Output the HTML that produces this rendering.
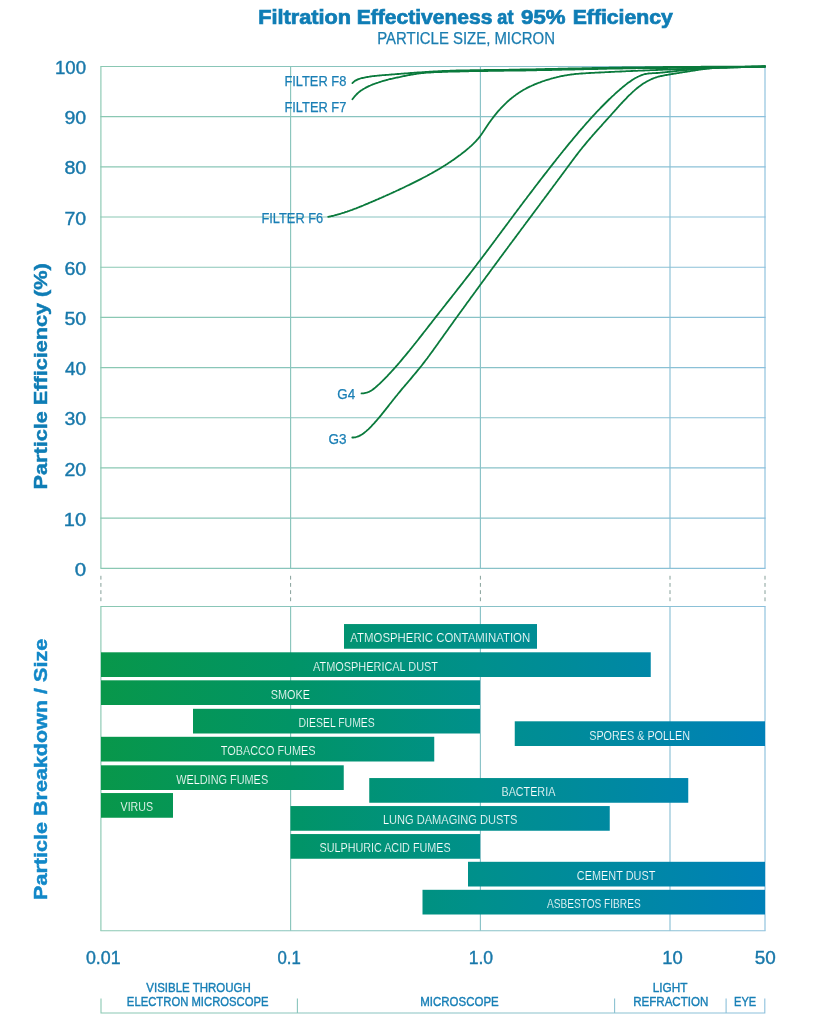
<!DOCTYPE html>
<html lang="en"><head><meta charset="utf-8"><title>Filtration Effectiveness at 95% Efficiency</title>
<style>html,body{margin:0;padding:0;background:#fff}body{width:820px;height:1024px;overflow:hidden}svg{display:block}text{font-family:"Liberation Sans",sans-serif}</style>
</head><body>
<svg width="820" height="1024" viewBox="0 0 820 1024">
<defs>
<linearGradient id="gl" gradientUnits="userSpaceOnUse" x1="101" y1="0" x2="765" y2="0"><stop offset="0" stop-color="#8ac8b2"/><stop offset="0.5" stop-color="#88c2c3"/><stop offset="1" stop-color="#8cc0dc"/></linearGradient>
<linearGradient id="gb" gradientUnits="userSpaceOnUse" x1="101" y1="0" x2="765" y2="0"><stop offset="0" stop-color="#08974a"/><stop offset="0.286" stop-color="#019466"/><stop offset="0.571" stop-color="#00908c"/><stop offset="0.857" stop-color="#0086aa"/><stop offset="1" stop-color="#0080b8"/></linearGradient>
</defs>
<rect width="820" height="1024" fill="#fff"/>
<text y="24.40" font-size="19.4" font-weight="bold" stroke="#0f7db5" stroke-width="0.7" fill="#0f7db5"><tspan id="t1" x="258.20" textLength="92.74" lengthAdjust="spacingAndGlyphs">Filtration</tspan> <tspan id="t2" x="356.74" textLength="135.62" lengthAdjust="spacingAndGlyphs">Effectiveness</tspan> <tspan id="t3" x="497.37" textLength="16.04" lengthAdjust="spacingAndGlyphs">at</tspan> <tspan id="t4" x="521.13" textLength="44.38" lengthAdjust="spacingAndGlyphs">95%</tspan> <tspan id="t5" x="572.71" textLength="100.08" lengthAdjust="spacingAndGlyphs">Efficiency</tspan></text>
<text id="t6" x="377.25" y="44.40" font-size="16.0" fill="#1a7db0" textLength="177.67" lengthAdjust="spacingAndGlyphs" stroke="#1a7db0" stroke-width="0.25">PARTICLE SIZE, MICRON</text>
<g stroke="url(#gl)" stroke-width="1.15" fill="none">
<line x1="100.40" y1="66.50" x2="765.60" y2="66.50"/>
<line x1="100.40" y1="116.68" x2="765.60" y2="116.68"/>
<line x1="100.40" y1="166.86" x2="765.60" y2="166.86"/>
<line x1="100.40" y1="217.04" x2="765.60" y2="217.04"/>
<line x1="100.40" y1="267.22" x2="765.60" y2="267.22"/>
<line x1="100.40" y1="317.40" x2="765.60" y2="317.40"/>
<line x1="100.40" y1="367.58" x2="765.60" y2="367.58"/>
<line x1="100.40" y1="417.76" x2="765.60" y2="417.76"/>
<line x1="100.40" y1="467.94" x2="765.60" y2="467.94"/>
<line x1="100.40" y1="518.12" x2="765.60" y2="518.12"/>
<line x1="100.40" y1="568.30" x2="765.60" y2="568.30"/>
<line x1="100.90" y1="66.50" x2="100.90" y2="568.30"/>
<line x1="290.60" y1="66.50" x2="290.60" y2="568.30"/>
<line x1="480.40" y1="66.50" x2="480.40" y2="568.30"/>
<line x1="670.00" y1="66.50" x2="670.00" y2="568.30"/>
<line x1="765.00" y1="66.50" x2="765.00" y2="568.30"/>
<line x1="100.40" y1="606.50" x2="765.60" y2="606.50"/>
<line x1="100.40" y1="930.70" x2="765.60" y2="930.70"/>
<line x1="100.90" y1="606.50" x2="100.90" y2="930.70"/>
<line x1="290.60" y1="606.50" x2="290.60" y2="930.70"/>
<line x1="480.40" y1="606.50" x2="480.40" y2="930.70"/>
<line x1="670.00" y1="606.50" x2="670.00" y2="930.70"/>
<line x1="765.00" y1="606.50" x2="765.00" y2="930.70"/>
</g>
<g stroke="#86a09a" stroke-width="1" stroke-dasharray="3.8 3.4" fill="none">
<line x1="100.90" y1="575.8" x2="100.90" y2="601.5"/>
<line x1="290.60" y1="575.8" x2="290.60" y2="601.5"/>
<line x1="480.40" y1="575.8" x2="480.40" y2="601.5"/>
<line x1="670.00" y1="575.8" x2="670.00" y2="601.5"/>
<line x1="765.00" y1="575.8" x2="765.00" y2="601.5"/>
</g>
<text id="t7" x="54.96" y="74.10" font-size="18.3" fill="#1878aa" textLength="31.09" lengthAdjust="spacingAndGlyphs" stroke="#1878aa" stroke-width="0.4">100</text>
<text id="t8" x="64.50" y="124.28" font-size="18.3" fill="#1878aa" textLength="21.69" lengthAdjust="spacingAndGlyphs" stroke="#1878aa" stroke-width="0.4">90</text>
<text id="t9" x="64.40" y="174.46" font-size="18.3" fill="#1878aa" textLength="21.84" lengthAdjust="spacingAndGlyphs" stroke="#1878aa" stroke-width="0.4">80</text>
<text id="t10" x="64.50" y="224.64" font-size="18.3" fill="#1878aa" textLength="21.70" lengthAdjust="spacingAndGlyphs" stroke="#1878aa" stroke-width="0.4">70</text>
<text id="t11" x="64.47" y="274.82" font-size="18.3" fill="#1878aa" textLength="21.72" lengthAdjust="spacingAndGlyphs" stroke="#1878aa" stroke-width="0.4">60</text>
<text id="t12" x="64.51" y="325.00" font-size="18.3" fill="#1878aa" textLength="21.69" lengthAdjust="spacingAndGlyphs" stroke="#1878aa" stroke-width="0.4">50</text>
<text id="t13" x="65.08" y="375.18" font-size="18.3" fill="#1878aa" textLength="21.06" lengthAdjust="spacingAndGlyphs" stroke="#1878aa" stroke-width="0.4">40</text>
<text id="t14" x="64.53" y="425.36" font-size="18.3" fill="#1878aa" textLength="21.68" lengthAdjust="spacingAndGlyphs" stroke="#1878aa" stroke-width="0.4">30</text>
<text id="t15" x="64.53" y="475.54" font-size="18.3" fill="#1878aa" textLength="21.68" lengthAdjust="spacingAndGlyphs" stroke="#1878aa" stroke-width="0.4">20</text>
<text id="t16" x="63.80" y="525.72" font-size="18.3" fill="#1878aa" textLength="22.26" lengthAdjust="spacingAndGlyphs" stroke="#1878aa" stroke-width="0.4">10</text>
<text id="t17" x="74.75" y="575.90" font-size="18.3" fill="#1878aa" textLength="11.37" lengthAdjust="spacingAndGlyphs" stroke="#1878aa" stroke-width="0.4">0</text>
<text id="t18" transform="translate(46.60 489.42) rotate(-90)" font-size="18.7" font-weight="bold" stroke="#0f7db5" stroke-width="0.45" fill="#0f7db5" textLength="226.21" lengthAdjust="spacingAndGlyphs">Particle Efficiency (%)</text>
<text id="t19" transform="translate(47.30 899.92) rotate(-90)" font-size="18.7" font-weight="bold" stroke="#1288c8" stroke-width="0.45" fill="#1288c8" textLength="261.13" lengthAdjust="spacingAndGlyphs">Particle Breakdown / Size</text>
<g stroke="#0a7a3c" stroke-width="1.8" fill="none" stroke-linecap="round" stroke-linejoin="round">
<path d="M352.4 83.1 L353.4 82.2 L354.4 81.3 L355.4 80.6 L356.4 80.1 L357.4 79.6 L358.4 79.1 L359.4 78.8 L360.4 78.5 L361.4 78.2 L362.4 78.0 L363.4 77.8 L364.4 77.6 L365.4 77.4 L366.4 77.2 L367.4 77.0 L368.4 76.8 L369.4 76.7 L370.4 76.5 L371.4 76.4 L372.4 76.2 L373.4 76.1 L374.4 76.0 L375.4 75.9 L376.4 75.8 L377.4 75.7 L378.4 75.6 L379.4 75.5 L380.4 75.4 L381.4 75.3 L382.4 75.2 L383.4 75.1 L384.4 75.1 L385.4 75.0 L386.4 74.9 L387.4 74.8 L388.4 74.8 L389.4 74.7 L390.4 74.6 L391.4 74.5 L392.4 74.4 L393.4 74.4 L394.4 74.3 L395.4 74.2 L396.4 74.1 L397.4 74.0 L398.4 74.0 L399.4 73.9 L400.4 73.8 L401.4 73.7 L402.4 73.7 L403.4 73.6 L404.4 73.5 L405.4 73.4 L406.4 73.3 L407.4 73.3 L408.4 73.2 L409.4 73.1 L410.4 73.0 L411.4 73.0 L412.4 72.9 L413.4 72.8 L414.4 72.7 L415.4 72.7 L416.4 72.6 L417.4 72.5 L418.4 72.5 L419.4 72.4 L420.4 72.3 L421.4 72.3 L422.4 72.2 L423.4 72.1 L424.4 72.1 L425.4 72.0 L426.4 71.9 L427.4 71.9 L428.4 71.8 L429.4 71.7 L430.4 71.7 L431.4 71.6 L432.4 71.6 L433.4 71.5 L434.4 71.4 L435.4 71.4 L436.4 71.3 L437.4 71.3 L438.4 71.2 L439.4 71.2 L440.4 71.1 L441.4 71.1 L442.4 71.0 L443.4 71.0 L444.4 71.0 L445.4 70.9 L446.4 70.9 L447.4 70.8 L448.4 70.8 L449.4 70.8 L450.4 70.7 L451.4 70.7 L452.4 70.7 L453.4 70.6 L454.4 70.6 L455.4 70.6 L456.4 70.5 L457.4 70.5 L458.4 70.5 L459.4 70.5 L460.4 70.4 L461.4 70.4 L462.4 70.4 L463.4 70.4 L464.4 70.3 L465.4 70.3 L466.4 70.3 L467.4 70.3 L468.4 70.3 L469.4 70.3 L470.4 70.2 L471.4 70.2 L472.4 70.2 L473.4 70.2 L474.4 70.2 L475.4 70.2 L476.4 70.1 L477.4 70.1 L478.4 70.1 L479.4 70.1 L480.4 70.1 L481.4 70.1 L482.4 70.1 L483.4 70.1 L484.4 70.0 L485.4 70.0 L486.4 70.0 L487.4 70.0 L488.4 70.0 L489.4 70.0 L490.4 70.0 L491.4 70.0 L492.4 70.0 L493.4 69.9 L494.4 69.9 L495.4 69.9 L496.4 69.9 L497.4 69.9 L498.4 69.9 L499.4 69.9 L500.4 69.9 L501.4 69.9 L502.4 69.8 L503.4 69.8 L504.4 69.8 L505.4 69.8 L506.4 69.8 L507.4 69.8 L508.4 69.8 L509.4 69.7 L510.4 69.7 L511.4 69.7 L512.4 69.7 L513.4 69.7 L514.4 69.7 L515.4 69.6 L516.4 69.6 L517.4 69.6 L518.4 69.6 L519.4 69.6 L520.4 69.5 L521.4 69.5 L522.4 69.5 L523.4 69.5 L524.4 69.5 L525.4 69.5 L526.4 69.4 L527.4 69.4 L528.4 69.4 L529.4 69.4 L530.4 69.4 L531.4 69.3 L532.4 69.3 L533.4 69.3 L534.4 69.3 L535.4 69.3 L536.4 69.2 L537.4 69.2 L538.4 69.2 L539.4 69.2 L540.4 69.1 L541.4 69.1 L542.4 69.1 L543.4 69.1 L544.4 69.1 L545.4 69.0 L546.4 69.0 L547.4 69.0 L548.4 69.0 L549.4 68.9 L550.4 68.9 L551.4 68.9 L552.4 68.9 L553.4 68.9 L554.4 68.8 L555.4 68.8 L556.4 68.8 L557.4 68.8 L558.4 68.7 L559.4 68.7 L560.4 68.7 L561.4 68.7 L562.4 68.7 L563.4 68.6 L564.4 68.6 L565.4 68.6 L566.4 68.6 L567.4 68.6 L568.4 68.5 L569.4 68.5 L570.4 68.5 L571.4 68.5 L572.4 68.4 L573.4 68.4 L574.4 68.4 L575.4 68.4 L576.4 68.4 L577.4 68.3 L578.4 68.3 L579.4 68.3 L580.4 68.3 L581.4 68.3 L582.4 68.2 L583.4 68.2 L584.4 68.2 L585.4 68.2 L586.4 68.2 L587.4 68.1 L588.4 68.1 L589.4 68.1 L590.4 68.1 L591.4 68.1 L592.4 68.0 L593.4 68.0 L594.4 68.0 L595.4 68.0 L596.4 68.0 L597.4 68.0 L598.4 67.9 L599.4 67.9 L600.4 67.9 L601.4 67.9 L602.4 67.9 L603.4 67.8 L604.4 67.8 L605.4 67.8 L606.4 67.8 L607.4 67.8 L608.4 67.8 L609.4 67.7 L610.4 67.7 L611.4 67.7 L612.4 67.7 L613.4 67.7 L614.4 67.7 L615.4 67.7 L616.4 67.6 L617.4 67.6 L618.4 67.6 L619.4 67.6 L620.4 67.6 L621.4 67.6 L622.4 67.5 L623.4 67.5 L624.4 67.5 L625.4 67.5 L626.4 67.5 L627.4 67.5 L628.4 67.5 L629.4 67.4 L630.4 67.4 L631.4 67.4 L632.4 67.4 L633.4 67.4 L634.4 67.4 L635.4 67.4 L636.4 67.4 L637.4 67.3 L638.4 67.3 L639.4 67.3 L640.4 67.3 L641.4 67.3 L642.4 67.3 L643.4 67.3 L644.4 67.3 L645.4 67.2 L646.4 67.2 L647.4 67.2 L648.4 67.2 L649.4 67.2 L650.4 67.2 L651.4 67.2 L652.4 67.2 L653.4 67.2 L654.4 67.1 L655.4 67.1 L656.4 67.1 L657.4 67.1 L658.4 67.1 L659.4 67.1 L660.4 67.1 L661.4 67.1 L662.4 67.1 L663.4 67.0 L664.4 67.0 L665.4 67.0 L666.4 67.0 L667.4 67.0 L668.4 67.0 L669.4 67.0 L670.4 67.0 L671.4 67.0 L672.4 67.0 L673.4 67.0 L674.4 66.9 L675.4 66.9 L676.4 66.9 L677.4 66.9 L678.4 66.9 L679.4 66.9 L680.4 66.9 L681.4 66.9 L682.4 66.9 L683.4 66.9 L684.4 66.9 L685.4 66.9 L686.4 66.8 L687.4 66.8 L688.4 66.8 L689.4 66.8 L690.4 66.8 L691.4 66.8 L692.4 66.8 L693.4 66.8 L694.4 66.8 L695.4 66.8 L696.4 66.8 L697.4 66.8 L698.4 66.8 L699.4 66.8 L700.4 66.8 L701.4 66.7 L702.4 66.7 L703.4 66.7 L704.4 66.7 L705.4 66.7 L706.4 66.7 L707.4 66.7 L708.4 66.7 L709.4 66.7 L710.4 66.7 L711.4 66.7 L712.4 66.7 L713.4 66.7 L714.4 66.7 L715.4 66.7 L716.4 66.7 L717.4 66.7 L718.4 66.7 L719.4 66.6 L720.4 66.6 L721.4 66.6 L722.4 66.6 L723.4 66.6 L724.4 66.6 L725.4 66.6 L726.4 66.6 L727.4 66.6 L728.4 66.6 L729.4 66.6 L730.4 66.6 L731.4 66.6 L732.4 66.6 L733.4 66.6 L734.4 66.6 L735.4 66.6 L736.4 66.6 L737.4 66.6 L738.4 66.6 L739.4 66.6 L740.4 66.6 L741.4 66.6 L742.4 66.6 L743.4 66.6 L744.4 66.6 L745.4 66.5 L746.4 66.5 L747.4 66.5 L748.4 66.5 L749.4 66.5 L750.4 66.5 L751.4 66.5 L752.4 66.5 L753.4 66.5 L754.4 66.5 L755.4 66.5 L756.4 66.5 L757.4 66.5 L758.4 66.5 L759.4 66.5 L760.4 66.5 L761.4 66.5 L762.4 66.5 L763.4 66.5 L764.4 66.5 L765.0 66.5"/>
<path d="M352.4 99.3 L353.4 98.0 L354.4 96.7 L355.4 95.6 L356.4 94.5 L357.4 93.5 L358.4 92.6 L359.4 91.8 L360.4 91.0 L361.4 90.3 L362.4 89.7 L363.4 89.0 L364.4 88.5 L365.4 87.9 L366.4 87.4 L367.4 86.9 L368.4 86.4 L369.4 85.9 L370.4 85.5 L371.4 85.0 L372.4 84.6 L373.4 84.2 L374.4 83.9 L375.4 83.5 L376.4 83.1 L377.4 82.8 L378.4 82.5 L379.4 82.1 L380.4 81.8 L381.4 81.5 L382.4 81.2 L383.4 80.9 L384.4 80.6 L385.4 80.3 L386.4 80.0 L387.4 79.8 L388.4 79.5 L389.4 79.2 L390.4 79.0 L391.4 78.8 L392.4 78.6 L393.4 78.3 L394.4 78.1 L395.4 77.9 L396.4 77.7 L397.4 77.5 L398.4 77.3 L399.4 77.1 L400.4 76.9 L401.4 76.6 L402.4 76.4 L403.4 76.2 L404.4 76.0 L405.4 75.8 L406.4 75.6 L407.4 75.4 L408.4 75.2 L409.4 75.0 L410.4 74.8 L411.4 74.6 L412.4 74.5 L413.4 74.3 L414.4 74.1 L415.4 74.0 L416.4 73.8 L417.4 73.7 L418.4 73.6 L419.4 73.4 L420.4 73.3 L421.4 73.2 L422.4 73.1 L423.4 73.0 L424.4 72.9 L425.4 72.8 L426.4 72.7 L427.4 72.7 L428.4 72.6 L429.4 72.5 L430.4 72.5 L431.4 72.4 L432.4 72.3 L433.4 72.3 L434.4 72.2 L435.4 72.2 L436.4 72.1 L437.4 72.1 L438.4 72.1 L439.4 72.0 L440.4 72.0 L441.4 72.0 L442.4 71.9 L443.4 71.9 L444.4 71.9 L445.4 71.8 L446.4 71.8 L447.4 71.8 L448.4 71.7 L449.4 71.7 L450.4 71.7 L451.4 71.7 L452.4 71.6 L453.4 71.6 L454.4 71.6 L455.4 71.5 L456.4 71.5 L457.4 71.5 L458.4 71.5 L459.4 71.5 L460.4 71.4 L461.4 71.4 L462.4 71.4 L463.4 71.4 L464.4 71.3 L465.4 71.3 L466.4 71.3 L467.4 71.3 L468.4 71.3 L469.4 71.2 L470.4 71.2 L471.4 71.2 L472.4 71.2 L473.4 71.2 L474.4 71.2 L475.4 71.1 L476.4 71.1 L477.4 71.1 L478.4 71.1 L479.4 71.1 L480.4 71.1 L481.4 71.0 L482.4 71.0 L483.4 71.0 L484.4 71.0 L485.4 71.0 L486.4 71.0 L487.4 71.0 L488.4 70.9 L489.4 70.9 L490.4 70.9 L491.4 70.9 L492.4 70.9 L493.4 70.9 L494.4 70.9 L495.4 70.9 L496.4 70.8 L497.4 70.8 L498.4 70.8 L499.4 70.8 L500.4 70.8 L501.4 70.8 L502.4 70.8 L503.4 70.8 L504.4 70.7 L505.4 70.7 L506.4 70.7 L507.4 70.7 L508.4 70.7 L509.4 70.7 L510.4 70.7 L511.4 70.7 L512.4 70.6 L513.4 70.6 L514.4 70.6 L515.4 70.6 L516.4 70.6 L517.4 70.6 L518.4 70.6 L519.4 70.5 L520.4 70.5 L521.4 70.5 L522.4 70.5 L523.4 70.5 L524.4 70.5 L525.4 70.5 L526.4 70.4 L527.4 70.4 L528.4 70.4 L529.4 70.4 L530.4 70.4 L531.4 70.4 L532.4 70.3 L533.4 70.3 L534.4 70.3 L535.4 70.3 L536.4 70.3 L537.4 70.2 L538.4 70.2 L539.4 70.2 L540.4 70.2 L541.4 70.2 L542.4 70.2 L543.4 70.1 L544.4 70.1 L545.4 70.1 L546.4 70.1 L547.4 70.1 L548.4 70.0 L549.4 70.0 L550.4 70.0 L551.4 70.0 L552.4 69.9 L553.4 69.9 L554.4 69.9 L555.4 69.9 L556.4 69.9 L557.4 69.8 L558.4 69.8 L559.4 69.8 L560.4 69.8 L561.4 69.8 L562.4 69.7 L563.4 69.7 L564.4 69.7 L565.4 69.7 L566.4 69.6 L567.4 69.6 L568.4 69.6 L569.4 69.6 L570.4 69.6 L571.4 69.5 L572.4 69.5 L573.4 69.5 L574.4 69.5 L575.4 69.4 L576.4 69.4 L577.4 69.4 L578.4 69.4 L579.4 69.4 L580.4 69.3 L581.4 69.3 L582.4 69.3 L583.4 69.3 L584.4 69.2 L585.4 69.2 L586.4 69.2 L587.4 69.2 L588.4 69.1 L589.4 69.1 L590.4 69.1 L591.4 69.1 L592.4 69.1 L593.4 69.0 L594.4 69.0 L595.4 69.0 L596.4 69.0 L597.4 69.0 L598.4 68.9 L599.4 68.9 L600.4 68.9 L601.4 68.9 L602.4 68.8 L603.4 68.8 L604.4 68.8 L605.4 68.8 L606.4 68.8 L607.4 68.7 L608.4 68.7 L609.4 68.7 L610.4 68.7 L611.4 68.7 L612.4 68.6 L613.4 68.6 L614.4 68.6 L615.4 68.6 L616.4 68.6 L617.4 68.6 L618.4 68.5 L619.4 68.5 L620.4 68.5 L621.4 68.5 L622.4 68.5 L623.4 68.4 L624.4 68.4 L625.4 68.4 L626.4 68.4 L627.4 68.4 L628.4 68.4 L629.4 68.3 L630.4 68.3 L631.4 68.3 L632.4 68.3 L633.4 68.3 L634.4 68.3 L635.4 68.3 L636.4 68.2 L637.4 68.2 L638.4 68.2 L639.4 68.2 L640.4 68.2 L641.4 68.2 L642.4 68.2 L643.4 68.2 L644.4 68.2 L645.4 68.1 L646.4 68.1 L647.4 68.1 L648.4 68.1 L649.4 68.1 L650.4 68.1 L651.4 68.1 L652.4 68.1 L653.4 68.1 L654.4 68.1 L655.4 68.0 L656.4 68.0 L657.4 68.0 L658.4 68.0 L659.4 68.0 L660.4 68.0 L661.4 68.0 L662.4 68.0 L663.4 68.0 L664.4 68.0 L665.4 68.0 L666.4 68.0 L667.4 68.0 L668.4 67.9 L669.4 67.9 L670.4 67.9 L671.4 67.9 L672.4 67.9 L673.4 67.9 L674.4 67.9 L675.4 67.9 L676.4 67.9 L677.4 67.9 L678.4 67.9 L679.4 67.9 L680.4 67.9 L681.4 67.9 L682.4 67.8 L683.4 67.8 L684.4 67.8 L685.4 67.8 L686.4 67.8 L687.4 67.8 L688.4 67.8 L689.4 67.8 L690.4 67.8 L691.4 67.8 L692.4 67.8 L693.4 67.8 L694.4 67.7 L695.4 67.7 L696.4 67.7 L697.4 67.7 L698.4 67.7 L699.4 67.7 L700.4 67.7 L701.4 67.7 L702.4 67.7 L703.4 67.6 L704.4 67.6 L705.4 67.6 L706.4 67.6 L707.4 67.6 L708.4 67.6 L709.4 67.6 L710.4 67.5 L711.4 67.5 L712.4 67.5 L713.4 67.5 L714.4 67.5 L715.4 67.5 L716.4 67.4 L717.4 67.4 L718.4 67.4 L719.4 67.4 L720.4 67.4 L721.4 67.4 L722.4 67.3 L723.4 67.3 L724.4 67.3 L725.4 67.3 L726.4 67.3 L727.4 67.2 L728.4 67.2 L729.4 67.2 L730.4 67.2 L731.4 67.2 L732.4 67.1 L733.4 67.1 L734.4 67.1 L735.4 67.1 L736.4 67.0 L737.4 67.0 L738.4 67.0 L739.4 67.0 L740.4 67.0 L741.4 66.9 L742.4 66.9 L743.4 66.9 L744.4 66.9 L745.4 66.9 L746.4 66.8 L747.4 66.8 L748.4 66.8 L749.4 66.8 L750.4 66.8 L751.4 66.7 L752.4 66.7 L753.4 66.7 L754.4 66.7 L755.4 66.7 L756.4 66.6 L757.4 66.6 L758.4 66.6 L759.4 66.6 L760.4 66.6 L761.4 66.6 L762.4 66.5 L763.4 66.5 L764.4 66.5 L765.0 66.5"/>
<path d="M328.2 216.9 L329.2 216.7 L330.2 216.5 L331.2 216.2 L332.2 216.0 L333.2 215.8 L334.2 215.5 L335.2 215.2 L336.2 215.0 L337.2 214.7 L338.2 214.4 L339.2 214.1 L340.2 213.8 L341.2 213.5 L342.2 213.2 L343.2 212.9 L344.2 212.6 L345.2 212.2 L346.2 211.9 L347.2 211.6 L348.2 211.2 L349.2 210.9 L350.2 210.5 L351.2 210.1 L352.2 209.8 L353.2 209.4 L354.2 209.0 L355.2 208.6 L356.2 208.3 L357.2 207.9 L358.2 207.5 L359.2 207.1 L360.2 206.7 L361.2 206.3 L362.2 205.9 L363.2 205.5 L364.2 205.0 L365.2 204.6 L366.2 204.2 L367.2 203.8 L368.2 203.4 L369.2 202.9 L370.2 202.5 L371.2 202.1 L372.2 201.7 L373.2 201.2 L374.2 200.8 L375.2 200.4 L376.2 199.9 L377.2 199.5 L378.2 199.1 L379.2 198.6 L380.2 198.2 L381.2 197.8 L382.2 197.3 L383.2 196.9 L384.2 196.4 L385.2 196.0 L386.2 195.5 L387.2 195.1 L388.2 194.7 L389.2 194.2 L390.2 193.7 L391.2 193.3 L392.2 192.8 L393.2 192.4 L394.2 191.9 L395.2 191.5 L396.2 191.0 L397.2 190.5 L398.2 190.1 L399.2 189.6 L400.2 189.1 L401.2 188.7 L402.2 188.2 L403.2 187.7 L404.2 187.3 L405.2 186.8 L406.2 186.3 L407.2 185.8 L408.2 185.3 L409.2 184.9 L410.2 184.4 L411.2 183.9 L412.2 183.4 L413.2 182.9 L414.2 182.4 L415.2 181.9 L416.2 181.4 L417.2 180.9 L418.2 180.4 L419.2 179.9 L420.2 179.4 L421.2 178.9 L422.2 178.3 L423.2 177.8 L424.2 177.3 L425.2 176.8 L426.2 176.2 L427.2 175.7 L428.2 175.1 L429.2 174.6 L430.2 174.0 L431.2 173.5 L432.2 172.9 L433.2 172.4 L434.2 171.8 L435.2 171.2 L436.2 170.6 L437.2 170.1 L438.2 169.5 L439.2 168.9 L440.2 168.3 L441.2 167.7 L442.2 167.0 L443.2 166.4 L444.2 165.8 L445.2 165.2 L446.2 164.5 L447.2 163.9 L448.2 163.2 L449.2 162.6 L450.2 161.9 L451.2 161.2 L452.2 160.6 L453.2 159.9 L454.2 159.2 L455.2 158.5 L456.2 157.8 L457.2 157.1 L458.2 156.3 L459.2 155.6 L460.2 154.9 L461.2 154.1 L462.2 153.3 L463.2 152.6 L464.2 151.8 L465.2 151.0 L466.2 150.1 L467.2 149.3 L468.2 148.4 L469.2 147.6 L470.2 146.7 L471.2 145.8 L472.2 144.8 L473.2 143.9 L474.2 142.9 L475.2 141.9 L476.2 140.8 L477.2 139.7 L478.2 138.6 L479.2 137.4 L480.2 136.1 L481.2 134.7 L482.2 133.3 L483.2 131.8 L484.2 130.3 L485.2 128.7 L486.2 127.2 L487.2 125.7 L488.2 124.2 L489.2 122.8 L490.2 121.4 L491.2 120.0 L492.2 118.7 L493.2 117.4 L494.2 116.1 L495.2 114.8 L496.2 113.6 L497.2 112.4 L498.2 111.2 L499.2 110.1 L500.2 109.0 L501.2 107.9 L502.2 106.8 L503.2 105.8 L504.2 104.8 L505.2 103.8 L506.2 102.9 L507.2 101.9 L508.2 101.0 L509.2 100.1 L510.2 99.3 L511.2 98.5 L512.2 97.6 L513.2 96.9 L514.2 96.1 L515.2 95.4 L516.2 94.6 L517.2 93.9 L518.2 93.2 L519.2 92.6 L520.2 91.9 L521.2 91.3 L522.2 90.7 L523.2 90.1 L524.2 89.5 L525.2 89.0 L526.2 88.4 L527.2 87.9 L528.2 87.4 L529.2 86.9 L530.2 86.4 L531.2 86.0 L532.2 85.5 L533.2 85.1 L534.2 84.6 L535.2 84.2 L536.2 83.8 L537.2 83.4 L538.2 83.0 L539.2 82.6 L540.2 82.3 L541.2 81.9 L542.2 81.5 L543.2 81.2 L544.2 80.9 L545.2 80.5 L546.2 80.2 L547.2 79.9 L548.2 79.6 L549.2 79.3 L550.2 79.0 L551.2 78.7 L552.2 78.4 L553.2 78.2 L554.2 77.9 L555.2 77.6 L556.2 77.4 L557.2 77.1 L558.2 76.9 L559.2 76.7 L560.2 76.4 L561.2 76.2 L562.2 76.0 L563.2 75.8 L564.2 75.6 L565.2 75.4 L566.2 75.3 L567.2 75.1 L568.2 74.9 L569.2 74.8 L570.2 74.6 L571.2 74.5 L572.2 74.4 L573.2 74.3 L574.2 74.1 L575.2 74.0 L576.2 73.9 L577.2 73.8 L578.2 73.8 L579.2 73.7 L580.2 73.6 L581.2 73.5 L582.2 73.5 L583.2 73.4 L584.2 73.3 L585.2 73.3 L586.2 73.2 L587.2 73.1 L588.2 73.1 L589.2 73.0 L590.2 73.0 L591.2 72.9 L592.2 72.9 L593.2 72.8 L594.2 72.8 L595.2 72.7 L596.2 72.7 L597.2 72.6 L598.2 72.6 L599.2 72.5 L600.2 72.5 L601.2 72.4 L602.2 72.4 L603.2 72.3 L604.2 72.3 L605.2 72.2 L606.2 72.2 L607.2 72.1 L608.2 72.1 L609.2 72.0 L610.2 72.0 L611.2 71.9 L612.2 71.9 L613.2 71.8 L614.2 71.8 L615.2 71.7 L616.2 71.7 L617.2 71.7 L618.2 71.6 L619.2 71.6 L620.2 71.5 L621.2 71.5 L622.2 71.4 L623.2 71.4 L624.2 71.3 L625.2 71.3 L626.2 71.2 L627.2 71.2 L628.2 71.2 L629.2 71.1 L630.2 71.1 L631.2 71.0 L632.2 71.0 L633.2 70.9 L634.2 70.9 L635.2 70.9 L636.2 70.8 L637.2 70.8 L638.2 70.7 L639.2 70.7 L640.2 70.7 L641.2 70.6 L642.2 70.6 L643.2 70.5 L644.2 70.5 L645.2 70.4 L646.2 70.4 L647.2 70.4 L648.2 70.3 L649.2 70.3 L650.2 70.2 L651.2 70.2 L652.2 70.2 L653.2 70.1 L654.2 70.1 L655.2 70.1 L656.2 70.0 L657.2 70.0 L658.2 69.9 L659.2 69.9 L660.2 69.9 L661.2 69.8 L662.2 69.8 L663.2 69.7 L664.2 69.7 L665.2 69.7 L666.2 69.6 L667.2 69.6 L668.2 69.6 L669.2 69.5 L670.2 69.5 L671.2 69.4 L672.2 69.4 L673.2 69.4 L674.2 69.3 L675.2 69.3 L676.2 69.3 L677.2 69.2 L678.2 69.2 L679.2 69.2 L680.2 69.1 L681.2 69.1 L682.2 69.0 L683.2 69.0 L684.2 69.0 L685.2 68.9 L686.2 68.9 L687.2 68.9 L688.2 68.8 L689.2 68.8 L690.2 68.8 L691.2 68.7 L692.2 68.7 L693.2 68.7 L694.2 68.6 L695.2 68.6 L696.2 68.5 L697.2 68.5 L698.2 68.5 L699.2 68.4 L700.2 68.4 L701.2 68.4 L702.2 68.3 L703.2 68.3 L704.2 68.3 L705.2 68.2 L706.2 68.2 L707.2 68.2 L708.2 68.1 L709.2 68.1 L710.2 68.1 L711.2 68.0 L712.2 68.0 L713.2 68.0 L714.2 67.9 L715.2 67.9 L716.2 67.8 L717.2 67.8 L718.2 67.8 L719.2 67.7 L720.2 67.7 L721.2 67.7 L722.2 67.6 L723.2 67.6 L724.2 67.6 L725.2 67.5 L726.2 67.5 L727.2 67.5 L728.2 67.4 L729.2 67.4 L730.2 67.4 L731.2 67.3 L732.2 67.3 L733.2 67.3 L734.2 67.2 L735.2 67.2 L736.2 67.2 L737.2 67.2 L738.2 67.1 L739.2 67.1 L740.2 67.1 L741.2 67.0 L742.2 67.0 L743.2 67.0 L744.2 67.0 L745.2 66.9 L746.2 66.9 L747.2 66.9 L748.2 66.8 L749.2 66.8 L750.2 66.8 L751.2 66.8 L752.2 66.7 L753.2 66.7 L754.2 66.7 L755.2 66.7 L756.2 66.7 L757.2 66.6 L758.2 66.6 L759.2 66.6 L760.2 66.6 L761.2 66.6 L762.2 66.5 L763.2 66.5 L764.2 66.5 L765.0 66.5"/>
<path d="M361.5 393.4 L362.5 393.4 L363.5 393.3 L364.5 393.1 L365.5 392.9 L366.5 392.7 L367.5 392.4 L368.5 392.0 L369.5 391.6 L370.5 391.0 L371.5 390.4 L372.5 389.8 L373.5 389.0 L374.5 388.2 L375.5 387.4 L376.5 386.5 L377.5 385.6 L378.5 384.7 L379.5 383.8 L380.5 382.8 L381.5 381.8 L382.5 380.9 L383.5 379.9 L384.5 378.9 L385.5 377.8 L386.5 376.8 L387.5 375.8 L388.5 374.7 L389.5 373.7 L390.5 372.6 L391.5 371.5 L392.5 370.4 L393.5 369.3 L394.5 368.2 L395.5 367.1 L396.5 365.9 L397.5 364.8 L398.5 363.6 L399.5 362.5 L400.5 361.3 L401.5 360.1 L402.5 358.9 L403.5 357.7 L404.5 356.5 L405.5 355.3 L406.5 354.1 L407.5 352.9 L408.5 351.7 L409.5 350.5 L410.5 349.2 L411.5 348.0 L412.5 346.7 L413.5 345.5 L414.5 344.2 L415.5 343.0 L416.5 341.7 L417.5 340.5 L418.5 339.2 L419.5 337.9 L420.5 336.7 L421.5 335.4 L422.5 334.1 L423.5 332.8 L424.5 331.5 L425.5 330.3 L426.5 329.0 L427.5 327.7 L428.5 326.4 L429.5 325.1 L430.5 323.8 L431.5 322.6 L432.5 321.3 L433.5 320.0 L434.5 318.7 L435.5 317.4 L436.5 316.1 L437.5 314.9 L438.5 313.6 L439.5 312.3 L440.5 311.0 L441.5 309.8 L442.5 308.5 L443.5 307.2 L444.5 306.0 L445.5 304.7 L446.5 303.4 L447.5 302.1 L448.5 300.9 L449.5 299.6 L450.5 298.3 L451.5 297.1 L452.5 295.8 L453.5 294.5 L454.5 293.3 L455.5 292.0 L456.5 290.7 L457.5 289.4 L458.5 288.2 L459.5 286.9 L460.5 285.6 L461.5 284.3 L462.5 283.1 L463.5 281.8 L464.5 280.5 L465.5 279.2 L466.5 277.9 L467.5 276.6 L468.5 275.4 L469.5 274.1 L470.5 272.8 L471.5 271.5 L472.5 270.2 L473.5 268.9 L474.5 267.6 L475.5 266.3 L476.5 265.0 L477.5 263.6 L478.5 262.3 L479.5 261.0 L480.5 259.7 L481.5 258.4 L482.5 257.0 L483.5 255.7 L484.5 254.4 L485.5 253.1 L486.5 251.7 L487.5 250.4 L488.5 249.1 L489.5 247.7 L490.5 246.4 L491.5 245.0 L492.5 243.7 L493.5 242.4 L494.5 241.0 L495.5 239.7 L496.5 238.3 L497.5 237.0 L498.5 235.6 L499.5 234.3 L500.5 232.9 L501.5 231.6 L502.5 230.2 L503.5 228.9 L504.5 227.6 L505.5 226.2 L506.5 224.9 L507.5 223.5 L508.5 222.2 L509.5 220.8 L510.5 219.5 L511.5 218.2 L512.5 216.8 L513.5 215.5 L514.5 214.1 L515.5 212.8 L516.5 211.5 L517.5 210.1 L518.5 208.8 L519.5 207.5 L520.5 206.1 L521.5 204.8 L522.5 203.5 L523.5 202.1 L524.5 200.8 L525.5 199.5 L526.5 198.2 L527.5 196.8 L528.5 195.5 L529.5 194.2 L530.5 192.9 L531.5 191.6 L532.5 190.3 L533.5 189.0 L534.5 187.6 L535.5 186.3 L536.5 185.0 L537.5 183.7 L538.5 182.4 L539.5 181.1 L540.5 179.8 L541.5 178.5 L542.5 177.2 L543.5 175.9 L544.5 174.6 L545.5 173.3 L546.5 172.1 L547.5 170.8 L548.5 169.5 L549.5 168.2 L550.5 166.9 L551.5 165.7 L552.5 164.4 L553.5 163.1 L554.5 161.8 L555.5 160.6 L556.5 159.3 L557.5 158.0 L558.5 156.8 L559.5 155.5 L560.5 154.3 L561.5 153.0 L562.5 151.8 L563.5 150.5 L564.5 149.3 L565.5 148.1 L566.5 146.8 L567.5 145.6 L568.5 144.4 L569.5 143.2 L570.5 142.0 L571.5 140.8 L572.5 139.6 L573.5 138.3 L574.5 137.2 L575.5 136.0 L576.5 134.8 L577.5 133.6 L578.5 132.4 L579.5 131.2 L580.5 130.1 L581.5 128.9 L582.5 127.8 L583.5 126.6 L584.5 125.5 L585.5 124.3 L586.5 123.2 L587.5 122.1 L588.5 121.0 L589.5 119.8 L590.5 118.7 L591.5 117.6 L592.5 116.5 L593.5 115.5 L594.5 114.4 L595.5 113.3 L596.5 112.2 L597.5 111.2 L598.5 110.1 L599.5 109.1 L600.5 108.0 L601.5 107.0 L602.5 106.0 L603.5 105.0 L604.5 104.0 L605.5 103.0 L606.5 102.0 L607.5 101.0 L608.5 100.0 L609.5 99.0 L610.5 98.1 L611.5 97.1 L612.5 96.2 L613.5 95.3 L614.5 94.3 L615.5 93.4 L616.5 92.5 L617.5 91.6 L618.5 90.8 L619.5 89.9 L620.5 89.0 L621.5 88.2 L622.5 87.3 L623.5 86.5 L624.5 85.7 L625.5 84.9 L626.5 84.1 L627.5 83.3 L628.5 82.6 L629.5 81.9 L630.5 81.2 L631.5 80.5 L632.5 79.8 L633.5 79.2 L634.5 78.6 L635.5 78.0 L636.5 77.5 L637.5 76.9 L638.5 76.5 L639.5 76.0 L640.5 75.6 L641.5 75.2 L642.5 74.8 L643.5 74.5 L644.5 74.2 L645.5 74.0 L646.5 73.8 L647.5 73.7 L648.5 73.5 L649.5 73.4 L650.5 73.3 L651.5 73.3 L652.5 73.2 L653.5 73.2 L654.5 73.1 L655.5 73.1 L656.5 73.0 L657.5 73.0 L658.5 72.9 L659.5 72.8 L660.5 72.7 L661.5 72.6 L662.5 72.5 L663.5 72.4 L664.5 72.3 L665.5 72.2 L666.5 72.1 L667.5 72.0 L668.5 71.9 L669.5 71.8 L670.5 71.7 L671.5 71.6 L672.5 71.5 L673.5 71.4 L674.5 71.2 L675.5 71.1 L676.5 71.0 L677.5 70.9 L678.5 70.8 L679.5 70.7 L680.5 70.6 L681.5 70.5 L682.5 70.4 L683.5 70.3 L684.5 70.2 L685.5 70.1 L686.5 70.0 L687.5 69.9 L688.5 69.8 L689.5 69.7 L690.5 69.7 L691.5 69.6 L692.5 69.5 L693.5 69.4 L694.5 69.3 L695.5 69.2 L696.5 69.1 L697.5 69.1 L698.5 69.0 L699.5 68.9 L700.5 68.8 L701.5 68.8 L702.5 68.7 L703.5 68.6 L704.5 68.6 L705.5 68.5 L706.5 68.4 L707.5 68.4 L708.5 68.3 L709.5 68.2 L710.5 68.2 L711.5 68.1 L712.5 68.1 L713.5 68.0 L714.5 68.0 L715.5 67.9 L716.5 67.9 L717.5 67.9 L718.5 67.8 L719.5 67.8 L720.5 67.7 L721.5 67.7 L722.5 67.7 L723.5 67.6 L724.5 67.6 L725.5 67.6 L726.5 67.5 L727.5 67.5 L728.5 67.5 L729.5 67.5 L730.5 67.4 L731.5 67.4 L732.5 67.4 L733.5 67.4 L734.5 67.3 L735.5 67.3 L736.5 67.3 L737.5 67.3 L738.5 67.2 L739.5 67.2 L740.5 67.2 L741.5 67.2 L742.5 67.2 L743.5 67.1 L744.5 67.1 L745.5 67.1 L746.5 67.1 L747.5 67.0 L748.5 67.0 L749.5 67.0 L750.5 67.0 L751.5 66.9 L752.5 66.9 L753.5 66.9 L754.5 66.9 L755.5 66.8 L756.5 66.8 L757.5 66.8 L758.5 66.7 L759.5 66.7 L760.5 66.7 L761.5 66.6 L762.5 66.6 L763.5 66.6 L764.5 66.5 L765.0 66.5"/>
<path d="M352.3 437.5 L353.3 437.5 L354.3 437.4 L355.3 437.3 L356.3 437.0 L357.3 436.7 L358.3 436.3 L359.3 435.9 L360.3 435.4 L361.3 434.8 L362.3 434.2 L363.3 433.5 L364.3 432.7 L365.3 431.9 L366.3 431.1 L367.3 430.2 L368.3 429.3 L369.3 428.3 L370.3 427.3 L371.3 426.3 L372.3 425.2 L373.3 424.2 L374.3 423.1 L375.3 421.9 L376.3 420.8 L377.3 419.7 L378.3 418.5 L379.3 417.3 L380.3 416.1 L381.3 414.9 L382.3 413.6 L383.3 412.4 L384.3 411.1 L385.3 409.9 L386.3 408.6 L387.3 407.4 L388.3 406.1 L389.3 404.8 L390.3 403.5 L391.3 402.3 L392.3 401.0 L393.3 399.7 L394.3 398.5 L395.3 397.2 L396.3 396.0 L397.3 394.8 L398.3 393.5 L399.3 392.3 L400.3 391.1 L401.3 389.9 L402.3 388.7 L403.3 387.5 L404.3 386.4 L405.3 385.2 L406.3 384.0 L407.3 382.8 L408.3 381.7 L409.3 380.5 L410.3 379.3 L411.3 378.1 L412.3 376.9 L413.3 375.7 L414.3 374.5 L415.3 373.3 L416.3 372.1 L417.3 370.9 L418.3 369.7 L419.3 368.5 L420.3 367.2 L421.3 366.0 L422.3 364.7 L423.3 363.4 L424.3 362.1 L425.3 360.8 L426.3 359.5 L427.3 358.2 L428.3 356.8 L429.3 355.5 L430.3 354.1 L431.3 352.7 L432.3 351.4 L433.3 350.0 L434.3 348.6 L435.3 347.2 L436.3 345.8 L437.3 344.4 L438.3 343.0 L439.3 341.6 L440.3 340.2 L441.3 338.8 L442.3 337.4 L443.3 336.0 L444.3 334.6 L445.3 333.2 L446.3 331.8 L447.3 330.4 L448.3 329.0 L449.3 327.6 L450.3 326.2 L451.3 324.8 L452.3 323.4 L453.3 322.0 L454.3 320.6 L455.3 319.2 L456.3 317.8 L457.3 316.5 L458.3 315.1 L459.3 313.7 L460.3 312.3 L461.3 310.9 L462.3 309.5 L463.3 308.2 L464.3 306.8 L465.3 305.4 L466.3 304.0 L467.3 302.6 L468.3 301.3 L469.3 299.9 L470.3 298.5 L471.3 297.1 L472.3 295.8 L473.3 294.4 L474.3 293.0 L475.3 291.7 L476.3 290.3 L477.3 288.9 L478.3 287.6 L479.3 286.2 L480.3 284.8 L481.3 283.5 L482.3 282.1 L483.3 280.7 L484.3 279.4 L485.3 278.0 L486.3 276.6 L487.3 275.3 L488.3 273.9 L489.3 272.6 L490.3 271.2 L491.3 269.8 L492.3 268.5 L493.3 267.1 L494.3 265.8 L495.3 264.4 L496.3 263.1 L497.3 261.7 L498.3 260.4 L499.3 259.0 L500.3 257.6 L501.3 256.3 L502.3 254.9 L503.3 253.6 L504.3 252.2 L505.3 250.9 L506.3 249.5 L507.3 248.2 L508.3 246.8 L509.3 245.5 L510.3 244.1 L511.3 242.8 L512.3 241.5 L513.3 240.1 L514.3 238.8 L515.3 237.4 L516.3 236.1 L517.3 234.7 L518.3 233.4 L519.3 232.0 L520.3 230.7 L521.3 229.3 L522.3 228.0 L523.3 226.7 L524.3 225.3 L525.3 224.0 L526.3 222.6 L527.3 221.3 L528.3 219.9 L529.3 218.6 L530.3 217.3 L531.3 215.9 L532.3 214.6 L533.3 213.2 L534.3 211.9 L535.3 210.5 L536.3 209.2 L537.3 207.9 L538.3 206.5 L539.3 205.2 L540.3 203.8 L541.3 202.5 L542.3 201.1 L543.3 199.8 L544.3 198.5 L545.3 197.1 L546.3 195.8 L547.3 194.4 L548.3 193.1 L549.3 191.7 L550.3 190.4 L551.3 189.0 L552.3 187.7 L553.3 186.3 L554.3 185.0 L555.3 183.7 L556.3 182.3 L557.3 181.0 L558.3 179.6 L559.3 178.3 L560.3 176.9 L561.3 175.6 L562.3 174.2 L563.3 172.9 L564.3 171.5 L565.3 170.2 L566.3 168.8 L567.3 167.5 L568.3 166.1 L569.3 164.8 L570.3 163.4 L571.3 162.1 L572.3 160.7 L573.3 159.4 L574.3 158.0 L575.3 156.7 L576.3 155.4 L577.3 154.1 L578.3 152.8 L579.3 151.5 L580.3 150.2 L581.3 149.0 L582.3 147.7 L583.3 146.5 L584.3 145.3 L585.3 144.1 L586.3 142.9 L587.3 141.7 L588.3 140.5 L589.3 139.3 L590.3 138.1 L591.3 137.0 L592.3 135.8 L593.3 134.7 L594.3 133.6 L595.3 132.4 L596.3 131.3 L597.3 130.2 L598.3 129.1 L599.3 128.0 L600.3 126.9 L601.3 125.8 L602.3 124.6 L603.3 123.5 L604.3 122.4 L605.3 121.3 L606.3 120.2 L607.3 119.1 L608.3 118.0 L609.3 116.9 L610.3 115.8 L611.3 114.7 L612.3 113.5 L613.3 112.4 L614.3 111.3 L615.3 110.2 L616.3 109.1 L617.3 107.9 L618.3 106.8 L619.3 105.7 L620.3 104.6 L621.3 103.5 L622.3 102.5 L623.3 101.4 L624.3 100.3 L625.3 99.3 L626.3 98.3 L627.3 97.2 L628.3 96.2 L629.3 95.2 L630.3 94.3 L631.3 93.3 L632.3 92.4 L633.3 91.4 L634.3 90.6 L635.3 89.7 L636.3 88.8 L637.3 88.0 L638.3 87.2 L639.3 86.4 L640.3 85.7 L641.3 85.0 L642.3 84.3 L643.3 83.6 L644.3 83.0 L645.3 82.4 L646.3 81.8 L647.3 81.2 L648.3 80.7 L649.3 80.2 L650.3 79.7 L651.3 79.2 L652.3 78.8 L653.3 78.4 L654.3 78.0 L655.3 77.7 L656.3 77.3 L657.3 77.0 L658.3 76.7 L659.3 76.5 L660.3 76.2 L661.3 76.0 L662.3 75.8 L663.3 75.6 L664.3 75.4 L665.3 75.2 L666.3 75.0 L667.3 74.8 L668.3 74.7 L669.3 74.5 L670.3 74.4 L671.3 74.2 L672.3 74.0 L673.3 73.9 L674.3 73.7 L675.3 73.5 L676.3 73.4 L677.3 73.2 L678.3 73.1 L679.3 72.9 L680.3 72.7 L681.3 72.6 L682.3 72.4 L683.3 72.2 L684.3 72.1 L685.3 71.9 L686.3 71.8 L687.3 71.6 L688.3 71.4 L689.3 71.3 L690.3 71.1 L691.3 70.9 L692.3 70.8 L693.3 70.6 L694.3 70.5 L695.3 70.3 L696.3 70.2 L697.3 70.0 L698.3 69.9 L699.3 69.7 L700.3 69.6 L701.3 69.4 L702.3 69.3 L703.3 69.2 L704.3 69.0 L705.3 68.9 L706.3 68.8 L707.3 68.7 L708.3 68.6 L709.3 68.5 L710.3 68.4 L711.3 68.3 L712.3 68.2 L713.3 68.1 L714.3 68.0 L715.3 68.0 L716.3 67.9 L717.3 67.8 L718.3 67.8 L719.3 67.7 L720.3 67.7 L721.3 67.6 L722.3 67.6 L723.3 67.6 L724.3 67.5 L725.3 67.5 L726.3 67.5 L727.3 67.4 L728.3 67.4 L729.3 67.4 L730.3 67.4 L731.3 67.4 L732.3 67.3 L733.3 67.3 L734.3 67.3 L735.3 67.3 L736.3 67.3 L737.3 67.3 L738.3 67.3 L739.3 67.3 L740.3 67.3 L741.3 67.2 L742.3 67.2 L743.3 67.2 L744.3 67.2 L745.3 67.2 L746.3 67.2 L747.3 67.2 L748.3 67.2 L749.3 67.1 L750.3 67.1 L751.3 67.1 L752.3 67.1 L753.3 67.1 L754.3 67.0 L755.3 67.0 L756.3 67.0 L757.3 66.9 L758.3 66.9 L759.3 66.8 L760.3 66.8 L761.3 66.7 L762.3 66.7 L763.3 66.6 L764.3 66.5 L765.0 66.5"/>
</g>
<text id="t20" x="284.41" y="85.50" font-size="14.5" fill="#1a7fb5" textLength="61.89" lengthAdjust="spacingAndGlyphs" stroke="#1a7fb5" stroke-width="0.25">FILTER F8</text>
<text id="t21" x="284.41" y="112.00" font-size="14.5" fill="#1a7fb5" textLength="61.94" lengthAdjust="spacingAndGlyphs" stroke="#1a7fb5" stroke-width="0.25">FILTER F7</text>
<text id="t22" x="261.42" y="223.00" font-size="14.5" fill="#1a7fb5" textLength="61.79" lengthAdjust="spacingAndGlyphs" stroke="#1a7fb5" stroke-width="0.25">FILTER F6</text>
<text id="t23" x="337.29" y="398.60" font-size="14.3" fill="#1a7fb5" textLength="17.88" lengthAdjust="spacingAndGlyphs" stroke="#1a7fb5" stroke-width="0.25">G4</text>
<text id="t24" x="328.39" y="444.30" font-size="14.3" fill="#1a7fb5" textLength="18.02" lengthAdjust="spacingAndGlyphs" stroke="#1a7fb5" stroke-width="0.25">G3</text>
<rect x="344.00" y="624.05" width="193.00" height="24.70" fill="url(#gb)"/>
<rect x="101.00" y="652.30" width="549.75" height="24.70" fill="url(#gb)"/>
<rect x="101.00" y="680.30" width="379.00" height="24.70" fill="url(#gb)"/>
<rect x="193.00" y="708.80" width="287.00" height="24.70" fill="url(#gb)"/>
<rect x="514.75" y="721.30" width="250.25" height="24.70" fill="url(#gb)"/>
<rect x="101.00" y="736.80" width="333.25" height="24.70" fill="url(#gb)"/>
<rect x="101.00" y="765.30" width="242.75" height="24.70" fill="url(#gb)"/>
<rect x="369.25" y="778.05" width="319.00" height="24.70" fill="url(#gb)"/>
<rect x="101.00" y="793.05" width="72.00" height="24.70" fill="url(#gb)"/>
<rect x="290.50" y="806.05" width="319.25" height="24.70" fill="url(#gb)"/>
<rect x="290.50" y="834.05" width="189.50" height="24.70" fill="url(#gb)"/>
<rect x="468.00" y="861.80" width="297.00" height="24.70" fill="url(#gb)"/>
<rect x="422.50" y="889.80" width="342.50" height="24.70" fill="url(#gb)"/>
<text id="t25" x="350.34" y="642.25" font-size="13.7" fill="#fff" textLength="179.87" lengthAdjust="spacingAndGlyphs" stroke="url(#gb)" stroke-width="0.2">ATMOSPHERIC CONTAMINATION</text>
<text id="t26" x="313.10" y="670.50" font-size="13.7" fill="#fff" textLength="124.86" lengthAdjust="spacingAndGlyphs" stroke="url(#gb)" stroke-width="0.2">ATMOSPHERICAL DUST</text>
<text id="t27" x="270.78" y="698.50" font-size="13.7" fill="#fff" textLength="39.27" lengthAdjust="spacingAndGlyphs" stroke="url(#gb)" stroke-width="0.2">SMOKE</text>
<text id="t28" x="298.53" y="727.00" font-size="13.7" fill="#fff" textLength="76.29" lengthAdjust="spacingAndGlyphs" stroke="url(#gb)" stroke-width="0.2">DIESEL FUMES</text>
<text id="t29" x="589.19" y="739.50" font-size="13.7" fill="#fff" textLength="100.86" lengthAdjust="spacingAndGlyphs" stroke="url(#gb)" stroke-width="0.2">SPORES &amp; POLLEN</text>
<text id="t30" x="220.73" y="755.00" font-size="13.7" fill="#fff" textLength="94.91" lengthAdjust="spacingAndGlyphs" stroke="url(#gb)" stroke-width="0.2">TOBACCO FUMES</text>
<text id="t31" x="176.13" y="783.50" font-size="13.7" fill="#fff" textLength="92.04" lengthAdjust="spacingAndGlyphs" stroke="url(#gb)" stroke-width="0.2">WELDING FUMES</text>
<text id="t32" x="501.49" y="796.25" font-size="13.7" fill="#fff" textLength="53.83" lengthAdjust="spacingAndGlyphs" stroke="url(#gb)" stroke-width="0.2">BACTERIA</text>
<text id="t33" x="120.58" y="811.25" font-size="13.7" fill="#fff" textLength="32.50" lengthAdjust="spacingAndGlyphs" stroke="url(#gb)" stroke-width="0.2">VIRUS</text>
<text id="t34" x="382.94" y="824.25" font-size="13.7" fill="#fff" textLength="134.52" lengthAdjust="spacingAndGlyphs" stroke="url(#gb)" stroke-width="0.2">LUNG DAMAGING DUSTS</text>
<text id="t35" x="319.51" y="852.25" font-size="13.7" fill="#fff" textLength="131.11" lengthAdjust="spacingAndGlyphs" stroke="url(#gb)" stroke-width="0.2">SULPHURIC ACID FUMES</text>
<text id="t36" x="576.84" y="880.00" font-size="13.7" fill="#fff" textLength="78.50" lengthAdjust="spacingAndGlyphs" stroke="url(#gb)" stroke-width="0.2">CEMENT DUST</text>
<text id="t37" x="546.89" y="908.00" font-size="13.7" fill="#fff" textLength="93.78" lengthAdjust="spacingAndGlyphs" stroke="url(#gb)" stroke-width="0.2">ASBESTOS FIBRES</text>
<text id="t38" x="85.94" y="963.80" font-size="18.3" fill="#1878aa" textLength="34.64" lengthAdjust="spacingAndGlyphs" stroke="#1878aa" stroke-width="0.4">0.01</text>
<text id="t39" x="277.51" y="963.80" font-size="18.3" fill="#1878aa" textLength="23.30" lengthAdjust="spacingAndGlyphs" stroke="#1878aa" stroke-width="0.4">0.1</text>
<text id="t40" x="468.72" y="963.80" font-size="18.3" fill="#1878aa" textLength="24.43" lengthAdjust="spacingAndGlyphs" stroke="#1878aa" stroke-width="0.4">1.0</text>
<text id="t41" x="662.18" y="963.80" font-size="18.3" fill="#1878aa" textLength="20.45" lengthAdjust="spacingAndGlyphs" stroke="#1878aa" stroke-width="0.4">10</text>
<text id="t42" x="754.71" y="963.80" font-size="18.3" fill="#1878aa" textLength="21.01" lengthAdjust="spacingAndGlyphs" stroke="#1878aa" stroke-width="0.4">50</text>
<text id="t43" x="146.28" y="991.70" font-size="13.2" fill="#177fb6" textLength="104.53" lengthAdjust="spacingAndGlyphs" stroke="#177fb6" stroke-width="0.4">VISIBLE THROUGH</text>
<text id="t44" x="126.87" y="1005.70" font-size="13.2" fill="#177fb6" textLength="141.75" lengthAdjust="spacingAndGlyphs" stroke="#177fb6" stroke-width="0.4">ELECTRON MICROSCOPE</text>
<text id="t45" x="420.27" y="1005.70" font-size="13.2" fill="#177fb6" textLength="78.45" lengthAdjust="spacingAndGlyphs" stroke="#177fb6" stroke-width="0.4">MICROSCOPE</text>
<text id="t46" x="652.70" y="991.70" font-size="13.2" fill="#177fb6" textLength="34.84" lengthAdjust="spacingAndGlyphs" stroke="#177fb6" stroke-width="0.4">LIGHT</text>
<text id="t47" x="633.17" y="1005.70" font-size="13.2" fill="#177fb6" textLength="75.18" lengthAdjust="spacingAndGlyphs" stroke="#177fb6" stroke-width="0.4">REFRACTION</text>
<text id="t48" x="734.00" y="1005.70" font-size="13.2" fill="#177fb6" textLength="22.14" lengthAdjust="spacingAndGlyphs" stroke="#177fb6" stroke-width="0.4">EYE</text>
<g stroke="url(#gl)" stroke-width="1.1" fill="none">
<path d="M101 998.4 V1013 H764.8 V998.4"/>
<line x1="297.4" y1="998.4" x2="297.4" y2="1013"/>
<line x1="614.6" y1="998.4" x2="614.6" y2="1013"/>
<line x1="726.1" y1="998.4" x2="726.1" y2="1013"/>
</g>
</svg>
</body></html>
